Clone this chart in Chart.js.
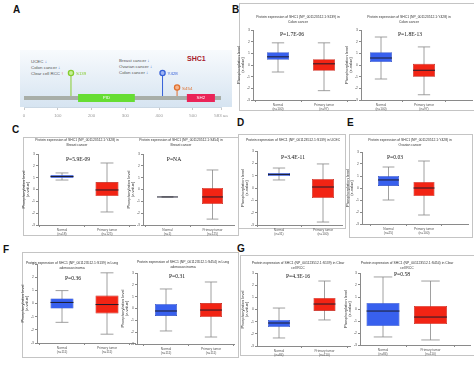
<!DOCTYPE html>
<html>
<head>
<meta charset="utf-8">
<script src="https://cdn.jsdelivr.net/npm/chart.js@4.4.1/dist/chart.umd.min.js"></script>
<style>
  html, body { margin: 0; padding: 0; background: #fff; }
  #page { position: relative; width: 474px; height: 368px; overflow: hidden; font-family: "Liberation Sans", Arial, sans-serif; }
  canvas { position: absolute; }
  .letter { position: absolute; font-weight: bold; font-size: 10px; line-height: 10px; color: #111; }
  .frame { position: absolute; border: 1px solid #c4c4c4; box-sizing: border-box; }
  .note { position: absolute; font-size: 4.4px; line-height: 5px; color: #555; white-space: nowrap; }
  .dn { color: #2f5fd0; font-weight: bold; }
  .up { color: #d02020; font-weight: bold; }
  #band { position: absolute; left: 20px; top: 50px; width: 212px; height: 57px;
          background: linear-gradient(to bottom, rgba(236,243,250,0.4), #d6e4f1); }
  #gene { position: absolute; left: 187px; top: 55px; font-size: 7px; font-weight: bold; color: #a8202c; }
</style>
</head>
<body>
<div id="page">
  <div class="letter" style="left:13px;top:5px">A</div>
  <div class="letter" style="left:232px;top:5px">B</div>
  <div class="letter" style="left:12px;top:125px">C</div>
  <div class="letter" style="left:237px;top:118px">D</div>
  <div class="letter" style="left:347px;top:118px">E</div>
  <div class="letter" style="left:3px;top:245px">F</div>
  <div class="letter" style="left:237px;top:244px">G</div>

  <div class="frame" style="left:239px;top:3px;width:240px;height:108px"></div>
  <div class="frame" style="left:23px;top:137px;width:216px;height:99px"></div>
  <div class="frame" style="left:238px;top:134px;width:108px;height:95px"></div>
  <div class="frame" style="left:349px;top:134px;width:124px;height:104px"></div>
  <div class="frame" style="left:22px;top:252px;width:217px;height:106px"></div>
  <div class="frame" style="left:240px;top:255px;width:240px;height:101px"></div>

  <div id="band"></div>
  <div id="gene">SHC1</div>
  <div class="note" style="left:31px;top:59px">UCEC <span class="dn">↓</span></div>
  <div class="note" style="left:31px;top:65px">Colon cancer <span class="dn">↓</span></div>
  <div class="note" style="left:31px;top:71px">Clear cell RCC <span class="up">↑</span></div>
  <div class="note" style="left:119px;top:58px">Breast cancer <span class="dn">↓</span></div>
  <div class="note" style="left:119px;top:64px">Ovarian cancer <span class="dn">↓</span></div>
  <div class="note" style="left:119px;top:70px">Colon cancer <span class="dn">↓</span></div>

  <canvas id="diagram"></canvas>
  <canvas id="b1"></canvas>
  <canvas id="b2"></canvas>
  <canvas id="c1"></canvas>
  <canvas id="c2"></canvas>
  <canvas id="d1"></canvas>
  <canvas id="e1"></canvas>
  <canvas id="f1"></canvas>
  <canvas id="f2"></canvas>
  <canvas id="g1"></canvas>
  <canvas id="g2"></canvas>
</div>
<script>
// ---- panel A: SHC1 protein with phosphosites ----
const proteinLength = 583;
const positionTicks = [0, 100, 200, 300, 400, 500, 583];
const domainNames = ['PID', 'SH2'];
const domainStarts = [160, 482];
const domainEnds = [328, 565];
const siteNames = ['S139', 'Y428', 'S454'];
const sitePositions = [139, 410, 453];
const siteHeights = [6.1, 6.1, 3.5];

// ---- box plots: min, q1, median, q3, max (z-values) ----
const groups = ['Normal', 'Primary tumor'];
const zTicks = [-3, -2, -1, 0, 1, 2, 3];

const b1Normal = [-0.6, 0.45, 0.7, 1.1, 1.9];
const b1Tumor = [-2.2, -0.5, 0.1, 0.5, 1.9];
const b1Counts = [100, 97];
const b1Title = ['Protein expression of SHC1 (NP_001123512.1:S139) in', 'Colon cancer'];
const b1P = 'P=1.7E-06';

const b2Normal = [-1.2, 0.25, 0.6, 1.1, 2.4];
const b2Tumor = [-2.55, -1.0, -0.45, 0.1, 1.55];
const b2Counts = [100, 97];
const b2Title = ['Protein expression of SHC1 (NP_001123512.1:Y428) in', 'Colon cancer'];
const b2P = 'P=1.8E-13';

const c1Normal = [0.8, 0.97, 1.1, 1.23, 1.4];
const c1Tumor = [-1.9, -0.55, -0.04, 0.63, 2.24];
const c1Counts = [18, 125];
const c1Title = ['Protein expression of SHC1 (NP_001123512.1:Y428) in', 'Breast cancer'];
const c1P = 'P=5.9E-09';

const c2Normal = [-0.63, -0.63, -0.63, -0.63, -0.63];
const c2Tumor = [-2.5, -1.23, -0.63, 0.13, 1.65];
const c2Counts = [1, 125];
const c2Title = ['Protein expression of SHC1 (NP_001123512.1:S454) in', 'Breast cancer'];
const c2P = 'P=NA';

const d1Normal = [0.65, 0.97, 1.1, 1.22, 1.62];
const d1Tumor = [-2.76, -0.81, 0.08, 0.73, 1.95];
const d1Counts = [31, 100];
const d1Title = ['Protein expression of SHC1 (NP_001123512.1:S139) in UCEC'];
const d1P = 'P=3.4E-11';

const e1Normal = [-1.0, 0.17, 0.67, 1.0, 1.75];
const e1Tumor = [-2.25, -0.67, 0, 0.5, 2.25];
const e1Counts = [25, 100];
const e1Title = ['Protein expression of SHC1 (NP_001123512.1:Y428) in', 'Ovarian cancer'];
const e1P = 'P=0.03';

const f1Normal = [-1.43, -0.38, 0.08, 0.38, 0.98];
const f1Tumor = [-2.33, -0.75, -0.08, 0.6, 2.33];
const f1Counts = [111, 111];
const f1Title = ['Protein expression of SHC1 (NP_001123512.1:S139) in Lung', 'adenocarcinoma'];
const f1P = 'P=0.36';

const f2Normal = [-1.9, -0.63, -0.21, 0.38, 1.65];
const f2Tumor = [-2.41, -0.72, -0.13, 0.46, 2.24];
const f2Counts = [111, 111];
const f2Title = ['Protein expression of SHC1 (NP_001123512.1:S454) in Lung', 'adenocarcinoma'];
const f2P = 'P=0.31';

const g1Normal = [-2.34, -1.44, -1.11, -0.86, 0.12];
const g1Tumor = [-0.86, -0.12, 0.45, 0.95, 2.34];
const g1Counts = [84, 110];
const g1Title = ['Protein expression of SHC1 (NP_001123512.1:S139) in Clear', 'cell RCC'];
const g1P = 'P=4.3E-16';

const g2Normal = [-2.33, -1.42, -0.17, 0.5, 2.67];
const g2Tumor = [-2.58, -1.25, -0.67, 0.25, 2.33];
const g2Counts = [84, 110];
const g2Title = ['Protein expression of SHC1 (NP_001123512.1:S454) in Clear', 'cell RCC'];
const g2P = 'P=0.58';

const BLUE = '#3860ee', BLUE_EDGE = '#2342b8';
const RED = '#f22414', RED_EDGE = '#b81a10';
const AXIS = '#8a8a8a';

// whiskers, caps, medians, title and p-value for one box plot
const boxWhisker = {
  id: 'boxWhisker',
  beforeDatasetsDraw(chart, args, opts) {
    const { ctx, scales: { x, y } } = chart;
    const meta = chart.getDatasetMeta(0);
    ctx.save();
    ctx.strokeStyle = '#888';
    ctx.lineWidth = 0.8;
    opts.stats.forEach((s, i) => {
      const px = x.getPixelForValue(i);
      const half = meta.data[i].width * 0.28;
      ctx.beginPath();
      ctx.moveTo(px, y.getPixelForValue(s[0]));
      ctx.lineTo(px, y.getPixelForValue(s[4]));
      [s[0], s[4]].forEach(v => {
        const py = y.getPixelForValue(v);
        ctx.moveTo(px - half, py);
        ctx.lineTo(px + half, py);
      });
      ctx.stroke();
    });
    ctx.restore();
  },
  afterDatasetsDraw(chart, args, opts) {
    const { ctx, scales: { x, y } } = chart;
    const meta = chart.getDatasetMeta(0);
    ctx.save();
    ctx.strokeStyle = '#1c1c2c';
    ctx.lineWidth = 1;
    opts.stats.forEach((s, i) => {
      const px = x.getPixelForValue(i);
      const half = meta.data[i].width / 2;
      const py = y.getPixelForValue(s[2]);
      ctx.beginPath();
      ctx.moveTo(px - half, py);
      ctx.lineTo(px + half, py);
      ctx.stroke();
    });
    ctx.restore();
  },
  afterDraw(chart, args, opts) {
    const ctx = chart.ctx;
    ctx.save();
    ctx.fillStyle = '#333';
    ctx.textAlign = 'center';
    ctx.textBaseline = 'middle';
    ctx.font = '3.4px "Liberation Sans", Arial, sans-serif';
    opts.title.forEach((line, i) => ctx.fillText(line, opts.titleX, opts.titleY + i * 5.2));
    ctx.fillStyle = '#111';
    ctx.font = '5.6px "Liberation Serif", "Times New Roman", serif';
    ctx.fillText(opts.pText, opts.pX, opts.pY);
    ctx.restore();
  }
};

function boxChart(id, lay, normal, tumor, counts, title, pText) {
  const canvas = document.getElementById(id);
  const yW = 17, xH = 12, padR = 3;
  const padTop = Math.max(lay.top - lay.titleY + 4, 4);
  const plotW = lay.right - lay.axis;
  const plotH = lay.bottom - lay.top;
  const left = lay.axis - yW;
  const top = lay.top - padTop;
  canvas.width = yW + plotW + padR;
  canvas.height = padTop + plotH + xH;
  canvas.style.left = left + 'px';
  canvas.style.top = top + 'px';
  const step = lay.c1 - lay.c0;

  return new Chart(canvas, {
    type: 'bar',
    data: {
      datasets: [{
        data: [{ x: 0, y: [normal[1], normal[3]] }, { x: 1, y: [tumor[1], tumor[3]] }],
        backgroundColor: [BLUE, RED],
        borderColor: [BLUE_EDGE, RED_EDGE],
        borderWidth: 0.6,
        borderSkipped: false,
        barPercentage: lay.box / step,
        categoryPercentage: 1
      }]
    },
    options: {
      responsive: false,
      animation: false,
      devicePixelRatio: 1,
      layout: { padding: { top: padTop, right: padR, left: 0, bottom: 0 } },
      plugins: {
        legend: { display: false },
        tooltip: { enabled: false },
        boxWhisker: {
          stats: [normal, tumor],
          title,
          titleX: lay.titleX - left,
          titleY: lay.titleY - top,
          pText,
          pX: lay.pX - left,
          pY: lay.pY - top
        }
      },
      scales: {
        x: {
          type: 'linear',
          offset: false,
          min: -(lay.c0 - lay.axis) / step,
          max: 1 + (lay.right - lay.c1) / step,
          afterBuildTicks: sc => { sc.ticks = [{ value: 0 }, { value: 1 }]; },
          afterFit: sc => { sc.height = xH; },
          ticks: {
            autoSkip: false,
            maxRotation: 0,
            padding: 1,
            color: '#555',
            font: { size: 3.2, family: '"Liberation Sans", Arial, sans-serif' },
            callback: v => [groups[v], '(n=' + counts[v] + ')']
          },
          grid: { drawOnChartArea: false, tickLength: 2, color: AXIS },
          border: { color: AXIS }
        },
        y: {
          min: zTicks[0],
          max: zTicks[zTicks.length - 1],
          afterBuildTicks: sc => { sc.ticks = zTicks.map(v => ({ value: v })); },
          afterFit: sc => { sc.width = yW; },
          ticks: {
            padding: 1,
            color: '#555',
            font: { size: 3.4, family: '"Liberation Sans", Arial, sans-serif' }
          },
          grid: { drawOnChartArea: false, tickLength: 2, color: AXIS },
          border: { color: AXIS },
          title: {
            display: true,
            text: ['Phosphorylation level', '(z-value)'],
            padding: 0,
            color: '#333',
            font: { size: 4, family: '"Liberation Sans", Arial, sans-serif' }
          }
        }
      }
    },
    plugins: [boxWhisker]
  });
}

boxChart('b1', { axis: 253, right: 355, top: 30, bottom: 100, c0: 278, c1: 324, box: 22, titleX: 298, titleY: 17, pX: 292, pY: 35 },
  b1Normal, b1Tumor, b1Counts, b1Title, b1P);
boxChart('b2', { axis: 361, right: 472, top: 30, bottom: 100, c0: 381, c1: 424, box: 22, titleX: 409, titleY: 17, pX: 410, pY: 35 },
  b2Normal, b2Tumor, b2Counts, b2Title, b2P);
boxChart('c1', { axis: 38, right: 135, top: 154, bottom: 225, c0: 62, c1: 107, box: 23, titleX: 77, titleY: 140, pX: 78, pY: 160 },
  c1Normal, c1Tumor, c1Counts, c1Title, c1P);
boxChart('c2', { axis: 143, right: 234, top: 154, bottom: 225, c0: 167.5, c1: 212.5, box: 21, titleX: 181, titleY: 140, pX: 174, pY: 160 },
  c2Normal, c2Tumor, c2Counts, c2Title, c2P);
boxChart('d1', { axis: 257, right: 342, top: 151, bottom: 225, c0: 279, c1: 323, box: 22, titleX: 293, titleY: 140, pX: 293, pY: 158 },
  d1Normal, d1Tumor, d1Counts, d1Title, d1P);
boxChart('e1', { axis: 362, right: 468, top: 152, bottom: 224, c0: 388.5, c1: 424, box: 21, titleX: 410, titleY: 140, pX: 395, pY: 158 },
  e1Normal, e1Tumor, e1Counts, e1Title, e1P);
boxChart('f1', { axis: 37, right: 135, top: 264, bottom: 343, c0: 62, c1: 107, box: 23, titleX: 72, titleY: 263, pX: 73, pY: 279 },
  f1Normal, f1Tumor, f1Counts, f1Title, f1P);
boxChart('f2', { axis: 137, right: 234, top: 273, bottom: 344, c0: 166, c1: 211, box: 22, titleX: 183, titleY: 262, pX: 177, pY: 277 },
  f2Normal, f2Tumor, f2Counts, f2Title, f2P);
boxChart('g1', { axis: 257, right: 350, top: 273, bottom: 346, c0: 279, c1: 324.5, box: 22, titleX: 298, titleY: 263, pX: 298, pY: 277 },
  g1Normal, g1Tumor, g1Counts, g1Title, g1P);
boxChart('g2', { axis: 360, right: 470, top: 273, bottom: 345, c0: 383, c1: 430.5, box: 33, titleX: 407, titleY: 263, pX: 402, pY: 275 },
  g2Normal, g2Tumor, g2Counts, g2Title, g2P);

// ---- panel A chart ----
const backboneLevel = 1.6;
const domainColors = ['#66dd33', '#ea2458'];
const siteColors = ['#86cc30', '#3560d8', '#e0702e'];
const siteFill = ['#c6f09a', '#9db4f4', '#f6b48c'];

const diagramLabels = {
  id: 'diagramLabels',
  afterDatasetsDraw(chart) {
    const { ctx, scales: { x, y } } = chart;
    ctx.save();
    ctx.textBaseline = 'middle';
    ctx.textAlign = 'center';
    ctx.fillStyle = '#ffffff';
    ctx.font = '4.4px "Liberation Sans", Arial, sans-serif';
    domainNames.forEach((name, i) => {
      ctx.fillText(name, x.getPixelForValue((domainStarts[i] + domainEnds[i]) / 2), y.getPixelForValue(backboneLevel));
    });
    ctx.textAlign = 'left';
    siteNames.forEach((name, i) => {
      ctx.fillStyle = siteColors[i];
      ctx.fillText(name, x.getPixelForValue(sitePositions[i]) + 5, y.getPixelForValue(siteHeights[i]) + 1);
    });
    ctx.restore();
  }
};

const diagramSets = [];
domainNames.forEach((name, i) => {
  diagramSets.push({
    label: name,
    data: [{ x: domainStarts[i], y: backboneLevel }, { x: domainEnds[i], y: backboneLevel }],
    borderColor: domainColors[i],
    borderWidth: 8,
    borderCapStyle: 'butt',
    pointRadius: 0
  });
});
diagramSets.push({
  label: 'backbone',
  data: [{ x: 0, y: backboneLevel }, { x: proteinLength, y: backboneLevel }],
  borderColor: '#a8aea8',
  borderWidth: 4,
  borderCapStyle: 'butt',
  pointRadius: 0
});
siteNames.forEach((name, i) => {
  diagramSets.push({
    label: name,
    data: [{ x: sitePositions[i], y: backboneLevel }, { x: sitePositions[i], y: siteHeights[i] }],
    borderColor: siteColors[i],
    borderWidth: 1,
    pointRadius: [0, 2.6],
    pointBackgroundColor: siteFill[i],
    pointBorderColor: siteColors[i],
    pointBorderWidth: 1.3
  });
});

const diagramCanvas = document.getElementById('diagram');
diagramCanvas.width = 222;
diagramCanvas.height = 75;
diagramCanvas.style.left = '14px';
diagramCanvas.style.top = '46px';

new Chart(diagramCanvas, {
  type: 'line',
  data: { datasets: diagramSets },
  options: {
    responsive: false,
    animation: false,
    devicePixelRatio: 1,
    layout: { padding: { left: 10, right: 15, top: 4, bottom: 0 } },
    plugins: { legend: { display: false }, tooltip: { enabled: false } },
    scales: {
      x: {
        type: 'linear',
        min: 0,
        max: proteinLength,
        afterBuildTicks: sc => { sc.ticks = positionTicks.map(v => ({ value: v })); },
        afterFit: sc => { sc.height = 14; },
        ticks: {
          autoSkip: false,
          maxRotation: 0,
          padding: 3,
          color: '#9a9a9a',
          font: { size: 4.4, family: '"Liberation Sans", Arial, sans-serif' },
          callback: v => v === proteinLength ? v + ' aa' : v
        },
        grid: { drawOnChartArea: false, tickLength: 3, color: '#c8c8c8' },
        border: { color: '#cbd8e4' }
      },
      y: { display: false, min: 0, max: 10 }
    }
  },
  plugins: [diagramLabels]
});
</script>
</body>
</html>
